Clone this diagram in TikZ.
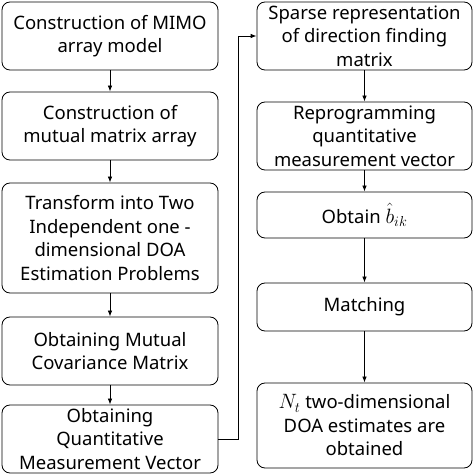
\documentclass[tikz,border=0pt]{standalone}
\usepackage{amsmath}
\usepackage{fontspec}
\setmainfont{Noto Sans}
\usetikzlibrary{arrows.meta}
\usetikzlibrary{calc}

\tikzset{
	stage/.style={draw,rounded corners=8pt,line width=0.8pt,align=center,
		inner xsep=2pt,inner ysep=0pt,font=\fontsize{18.5}{23.5}\selectfont},
	leftstage/.style={stage,minimum width=216pt},
	rightstage/.style={stage,minimum width=215pt}
}
\newcommand{\bigmath}[1]{{\fontsize{22}{23.5}\selectfont$#1$}}

\begin{document}
\begin{tikzpicture}[x=1pt,y=1pt,>/.tip={Latex[length=6pt,width=4.5pt]},line width=0.8pt]
	\useasboundingbox (0,0) rectangle (474,475);

	% left column
	\draw (110,439) node (L1) [leftstage,minimum height=68pt] {Construction of MIMO\\array model};
	\draw (110,349) node (L2) [leftstage,minimum height=68pt] {Construction of\\mutual matrix array};
	\draw (110,237) node (L3) [leftstage,minimum height=110pt] {Transform into Two\\Independent one -\\dimensional DOA\\Estimation Problems};
	\draw (110,124) node (L4) [leftstage,minimum height=68pt] {Obtaining Mutual\\Covariance Matrix};
	\draw (110,36) node (L5) [leftstage,minimum height=68pt] {Obtaining\\Quantitative\\Measurement Vector};

	% right column
	\draw (364.5,439) node (R1) [rightstage,minimum height=68pt] {Sparse representation\\of direction finding\\matrix};
	\draw (364.5,339) node (R2) [rightstage,minimum height=68pt] {Reprogramming\\quantitative\\measurement vector};
	\draw (364.5,260) node (R3) [rightstage,minimum height=46pt] {Obtain \bigmath{\hat{b}_{ik}}};
	\draw (364.5,168) node (R4) [rightstage,minimum height=48pt] {Matching};
	\draw (364.5,49.5) node (R5) [rightstage,minimum height=85pt] {\bigmath{N_t} two-dimensional\\DOA estimates are\\obtained};

	\draw[->] (L1) edge (L2);
	\draw[->] (L2) edge (L3);
	\draw[->] (L3) edge (L4);
	\draw[->] (L4) edge (L5);

	\draw[->] (L5.east) -- ++(20,0) |- (R1.west);

	\draw[->] (R1) edge (R2);
	\draw[->] (R2) edge (R3);
	\draw[->] (R3) edge (R4);
	\draw[->] (R4) edge (R5);
\end{tikzpicture}
\end{document}
